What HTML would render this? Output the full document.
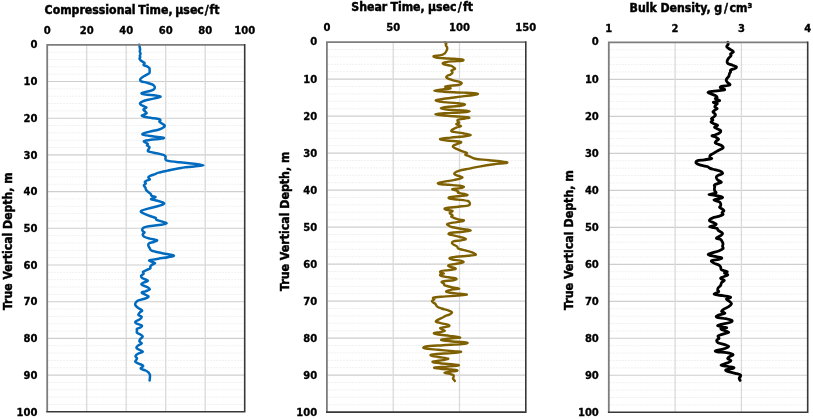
<!DOCTYPE html>
<html><head><meta charset="utf-8"><title>Well logs</title><style>
html,body{margin:0;padding:0;background:#fff;}
body{width:813px;height:419px;overflow:hidden;}
svg{display:block;}
text{font-family:'DejaVu Sans Condensed','DejaVu Sans',sans-serif;font-stretch:condensed;font-weight:bold;fill:#000;stroke:#000;stroke-width:0.45px;}
.t{font-size:12.2px;word-spacing:-1.1px;}
.yt{font-size:12.1px;}
.xl{font-size:10px;text-anchor:middle;font-stretch:normal;font-family:'DejaVu Sans',sans-serif;stroke-width:0.3px;}
.yl{font-size:10px;text-anchor:end;font-stretch:normal;font-family:'DejaVu Sans',sans-serif;stroke-width:0.3px;}
.mj{stroke:#cecece;stroke-width:1.1;}
.mv{stroke:#dadada;stroke-width:1.3;}
.mn{stroke:#f0f0f0;stroke-width:1;stroke-dasharray:2,1;}
</style></head>
<body>
<svg width="813" height="419" viewBox="0 0 813 419">
<line x1="48.2" y1="52.14" x2="243.7" y2="52.14" class="mn"/>
<line x1="48.2" y1="59.48" x2="243.7" y2="59.48" class="mn"/>
<line x1="48.2" y1="66.82" x2="243.7" y2="66.82" class="mn"/>
<line x1="48.2" y1="74.16" x2="243.7" y2="74.16" class="mn"/>
<line x1="48.2" y1="88.84" x2="243.7" y2="88.84" class="mn"/>
<line x1="48.2" y1="96.18" x2="243.7" y2="96.18" class="mn"/>
<line x1="48.2" y1="103.52" x2="243.7" y2="103.52" class="mn"/>
<line x1="48.2" y1="110.86" x2="243.7" y2="110.86" class="mn"/>
<line x1="48.2" y1="125.54" x2="243.7" y2="125.54" class="mn"/>
<line x1="48.2" y1="132.88" x2="243.7" y2="132.88" class="mn"/>
<line x1="48.2" y1="140.22" x2="243.7" y2="140.22" class="mn"/>
<line x1="48.2" y1="147.56" x2="243.7" y2="147.56" class="mn"/>
<line x1="48.2" y1="162.24" x2="243.7" y2="162.24" class="mn"/>
<line x1="48.2" y1="169.58" x2="243.7" y2="169.58" class="mn"/>
<line x1="48.2" y1="176.92" x2="243.7" y2="176.92" class="mn"/>
<line x1="48.2" y1="184.26" x2="243.7" y2="184.26" class="mn"/>
<line x1="48.2" y1="198.94" x2="243.7" y2="198.94" class="mn"/>
<line x1="48.2" y1="206.28" x2="243.7" y2="206.28" class="mn"/>
<line x1="48.2" y1="213.62" x2="243.7" y2="213.62" class="mn"/>
<line x1="48.2" y1="220.96" x2="243.7" y2="220.96" class="mn"/>
<line x1="48.2" y1="235.64" x2="243.7" y2="235.64" class="mn"/>
<line x1="48.2" y1="242.98" x2="243.7" y2="242.98" class="mn"/>
<line x1="48.2" y1="250.32" x2="243.7" y2="250.32" class="mn"/>
<line x1="48.2" y1="257.66" x2="243.7" y2="257.66" class="mn"/>
<line x1="48.2" y1="272.34" x2="243.7" y2="272.34" class="mn"/>
<line x1="48.2" y1="279.68" x2="243.7" y2="279.68" class="mn"/>
<line x1="48.2" y1="287.02" x2="243.7" y2="287.02" class="mn"/>
<line x1="48.2" y1="294.36" x2="243.7" y2="294.36" class="mn"/>
<line x1="48.2" y1="309.04" x2="243.7" y2="309.04" class="mn"/>
<line x1="48.2" y1="316.38" x2="243.7" y2="316.38" class="mn"/>
<line x1="48.2" y1="323.72" x2="243.7" y2="323.72" class="mn"/>
<line x1="48.2" y1="331.06" x2="243.7" y2="331.06" class="mn"/>
<line x1="48.2" y1="345.74" x2="243.7" y2="345.74" class="mn"/>
<line x1="48.2" y1="353.08" x2="243.7" y2="353.08" class="mn"/>
<line x1="48.2" y1="360.42" x2="243.7" y2="360.42" class="mn"/>
<line x1="48.2" y1="367.76" x2="243.7" y2="367.76" class="mn"/>
<line x1="48.2" y1="382.44" x2="243.7" y2="382.44" class="mn"/>
<line x1="48.2" y1="389.78" x2="243.7" y2="389.78" class="mn"/>
<line x1="48.2" y1="397.12" x2="243.7" y2="397.12" class="mn"/>
<line x1="48.2" y1="404.46" x2="243.7" y2="404.46" class="mn"/>
<line x1="47.2" y1="81.5" x2="244.7" y2="81.5" class="mj"/>
<line x1="47.2" y1="118.2" x2="244.7" y2="118.2" class="mj"/>
<line x1="47.2" y1="154.9" x2="244.7" y2="154.9" class="mj"/>
<line x1="47.2" y1="191.6" x2="244.7" y2="191.6" class="mj"/>
<line x1="47.2" y1="228.3" x2="244.7" y2="228.3" class="mj"/>
<line x1="47.2" y1="265" x2="244.7" y2="265" class="mj"/>
<line x1="47.2" y1="301.7" x2="244.7" y2="301.7" class="mj"/>
<line x1="47.2" y1="338.4" x2="244.7" y2="338.4" class="mj"/>
<line x1="47.2" y1="375.1" x2="244.7" y2="375.1" class="mj"/>
<line x1="86.7" y1="44.8" x2="86.7" y2="411.8" class="mv"/>
<line x1="126.2" y1="44.8" x2="126.2" y2="411.8" class="mv"/>
<line x1="165.7" y1="44.8" x2="165.7" y2="411.8" class="mv"/>
<line x1="205.2" y1="44.8" x2="205.2" y2="411.8" class="mv"/>
<path d="M139.3,44.8 C139.38,45.27 139.67,46.8 139.8,47.6 C139.93,48.4 140.1,48.95 140.1,49.6 C140.1,50.25 139.73,50.8 139.8,51.5 C139.87,52.2 140.5,53.08 140.5,53.8 C140.5,54.52 139.83,55.23 139.8,55.8 C139.77,56.37 140.35,56.73 140.3,57.2 C140.25,57.67 139.42,58.05 139.5,58.6 C139.58,59.15 140.2,59.93 140.8,60.5 C141.4,61.07 142.47,61.6 143.1,62 C143.73,62.4 144.52,62.5 144.6,62.9 C144.68,63.3 143.68,64 143.6,64.4 C143.52,64.8 143.53,64.98 144.1,65.3 C144.67,65.62 146.12,65.82 147,66.3 C147.88,66.78 148.97,67.48 149.4,68.2 C149.83,68.92 149.6,69.8 149.6,70.6 C149.6,71.4 149.92,72.28 149.4,73 C148.88,73.72 147.55,74.27 146.5,74.9 C145.45,75.53 144.13,76.08 143.1,76.8 C142.07,77.52 140.62,78.45 140.3,79.2 C139.98,79.95 140.08,80.72 141.2,81.3 C142.32,81.88 145.08,82.15 147,82.7 C148.92,83.25 151.4,83.88 152.7,84.6 C154,85.32 154.63,86.2 154.8,87 C154.97,87.8 154.68,88.68 153.7,89.4 C152.72,90.12 150.73,90.75 148.9,91.3 C147.07,91.85 143.9,92.3 142.7,92.7 C141.5,93.1 141.23,93.38 141.7,93.7 C142.17,94.02 143.18,94.28 145.5,94.6 C147.82,94.92 153.1,95.28 155.6,95.6 C158.1,95.92 160.18,96.13 160.5,96.5 C160.82,96.87 159.28,97.32 157.5,97.8 C155.72,98.28 152.27,98.82 149.8,99.4 C147.33,99.98 144.32,100.67 142.7,101.3 C141.08,101.93 140.42,102.63 140.1,103.2 C139.78,103.77 140.13,104.17 140.8,104.7 C141.47,105.23 143.15,105.93 144.1,106.4 C145.05,106.87 146.5,107.07 146.5,107.5 C146.5,107.93 144.58,108.6 144.1,109 C143.62,109.4 143.28,109.35 143.6,109.9 C143.92,110.45 145.52,111.72 146,112.3 C146.48,112.88 146.9,112.97 146.5,113.4 C146.1,113.83 144.4,114.5 143.6,114.9 C142.8,115.3 141.62,115.48 141.7,115.8 C141.78,116.12 142.43,116.45 144.1,116.8 C145.77,117.15 149.15,117.5 151.7,117.9 C154.25,118.3 157.97,118.75 159.4,119.2 C160.83,119.65 160.3,120.2 160.3,120.6 C160.3,121 159.15,121.12 159.4,121.6 C159.65,122.08 160.93,122.87 161.8,123.5 C162.67,124.13 164.28,124.77 164.6,125.4 C164.92,126.03 164.73,126.58 163.7,127.3 C162.67,128.02 160.72,128.98 158.4,129.7 C156.08,130.42 152.35,130.97 149.8,131.6 C147.25,132.23 144.13,132.95 143.1,133.5 C142.07,134.05 141.83,134.42 143.6,134.9 C145.37,135.38 150.35,135.92 153.7,136.4 C157.05,136.88 162.6,137.42 163.7,137.8 C164.8,138.18 162.45,138.38 160.3,138.7 C158.15,139.02 153.5,139.3 150.8,139.7 C148.1,140.1 144.98,140.62 144.1,141.1 C143.22,141.58 144.87,142.12 145.5,142.6 C146.13,143.08 147.65,143.53 147.9,144 C148.15,144.47 146.75,144.92 147,145.4 C147.25,145.88 149.08,146.33 149.4,146.9 C149.72,147.47 149.17,148.15 148.9,148.8 C148.63,149.45 147.65,150.28 147.8,150.8 C147.95,151.32 148.17,151.47 149.8,151.9 C151.43,152.33 155.32,152.9 157.6,153.4 C159.88,153.9 162.18,154.4 163.5,154.9 C164.82,155.4 165.17,155.75 165.5,156.4 C165.83,157.05 165.25,158.1 165.5,158.8 C165.75,159.5 164.7,160.02 167,160.6 C169.3,161.18 174.78,161.78 179.3,162.3 C183.82,162.82 190.08,163.22 194.1,163.7 C198.12,164.18 203.4,164.73 203.4,165.2 C203.4,165.67 198.12,166 194.1,166.5 C190.08,167 183.73,167.52 179.3,168.2 C174.87,168.88 170.95,169.87 167.5,170.6 C164.05,171.33 160.65,172.02 158.6,172.6 C156.55,173.18 156.52,173.6 155.2,174.1 C153.88,174.6 151.85,175.07 150.7,175.6 C149.55,176.13 148.45,176.65 148.3,177.3 C148.15,177.95 150.05,178.97 149.8,179.5 C149.55,180.03 147.63,180.08 146.8,180.5 C145.97,180.92 144.97,181.52 144.8,182 C144.63,182.48 145.95,182.83 145.8,183.4 C145.65,183.97 143.95,184.67 143.9,185.4 C143.85,186.13 145.15,187.08 145.5,187.8 C145.85,188.52 145.52,188.98 146,189.7 C146.48,190.42 147.6,191.38 148.4,192.1 C149.2,192.82 150.25,193.37 150.8,194 C151.35,194.63 150.9,195.42 151.7,195.9 C152.5,196.38 155.43,196.5 155.6,196.9 C155.77,197.3 153.42,197.9 152.7,198.3 C151.98,198.7 150.5,198.9 151.3,199.3 C152.1,199.7 155.52,200.15 157.5,200.7 C159.48,201.25 162.17,202.03 163.2,202.6 C164.23,203.17 164.5,203.53 163.7,204.1 C162.9,204.67 160.87,205.28 158.4,206 C155.93,206.72 151.68,207.62 148.9,208.4 C146.12,209.18 142.98,210.07 141.7,210.7 C140.42,211.33 140.63,211.63 141.2,212.2 C141.77,212.77 143.67,213.47 145.1,214.1 C146.53,214.73 148.05,215.37 149.8,216 C151.55,216.63 154.48,217.27 155.6,217.9 C156.72,218.53 155.23,219.13 156.5,219.8 C157.77,220.47 161.53,221.32 163.2,221.9 C164.87,222.48 166.82,222.82 166.5,223.3 C166.18,223.78 164.23,224.32 161.3,224.8 C158.37,225.28 151.85,225.73 148.9,226.2 C145.95,226.67 144.72,227.03 143.6,227.6 C142.48,228.17 142.28,228.95 142.2,229.6 C142.12,230.25 142.7,231.03 143.1,231.5 C143.5,231.97 144.67,231.93 144.6,232.4 C144.53,232.87 142.78,233.58 142.7,234.3 C142.62,235.02 142.92,235.98 144.1,236.7 C145.28,237.42 147.65,238.02 149.8,238.6 C151.95,239.18 156.35,239.63 157,240.2 C157.65,240.77 155.05,241.47 153.7,242 C152.35,242.53 149.78,242.77 148.9,243.4 C148.02,244.03 148.25,245 148.4,245.8 C148.55,246.6 149.25,247.4 149.8,248.2 C150.35,249 149.78,249.8 151.7,250.6 C153.62,251.4 157.63,252.18 161.3,253 C164.97,253.82 172.58,254.8 173.7,255.5 C174.82,256.2 170.55,256.67 168,257.2 C165.45,257.73 161.5,258.18 158.4,258.7 C155.3,259.22 150.52,259.8 149.4,260.3 C148.28,260.8 150.75,261.22 151.7,261.7 C152.65,262.18 155.02,262.72 155.1,263.2 C155.18,263.68 153,264.05 152.2,264.6 C151.4,265.15 150.62,265.87 150.3,266.5 C149.98,267.13 150.85,267.85 150.3,268.4 C149.75,268.95 148.2,269.23 147,269.8 C145.8,270.37 143.67,271.15 143.1,271.8 C142.53,272.45 143.92,273.07 143.6,273.7 C143.28,274.33 141.43,274.88 141.2,275.6 C140.97,276.32 141.08,277.13 142.2,278 C143.32,278.87 147.75,280.02 147.9,280.8 C148.05,281.58 144.13,282.05 143.1,282.7 C142.07,283.35 141.05,283.98 141.7,284.7 C142.35,285.42 145.65,286.22 147,287 C148.35,287.78 150.05,288.68 149.8,289.4 C149.55,290.12 146.85,290.73 145.5,291.3 C144.15,291.87 141.53,292.13 141.7,292.8 C141.87,293.47 145.38,294.63 146.5,295.3 C147.62,295.97 148.72,296.23 148.4,296.8 C148.08,297.37 146.35,298.07 144.6,298.7 C142.85,299.33 139.42,299.88 137.9,300.6 C136.38,301.32 135.9,302.2 135.5,303 C135.1,303.8 135.1,304.6 135.5,305.4 C135.9,306.2 136.78,306.93 137.9,307.8 C139.02,308.67 141.88,309.82 142.2,310.6 C142.52,311.38 140.43,311.78 139.8,312.5 C139.17,313.22 138.08,314.18 138.4,314.9 C138.72,315.62 141.47,316.08 141.7,316.8 C141.93,317.52 140.83,318.4 139.8,319.2 C138.77,320 136.05,320.88 135.5,321.6 C134.95,322.32 135.47,322.87 136.5,323.5 C137.53,324.13 140.98,324.77 141.7,325.4 C142.42,326.03 141.58,326.73 140.8,327.3 C140.02,327.87 137.63,328.28 137,328.8 C136.37,329.32 137,329.73 137,330.4 C137,331.07 136.37,332.08 137,332.8 C137.63,333.52 139.85,334.07 140.8,334.7 C141.75,335.33 142.78,335.88 142.7,336.6 C142.62,337.32 140.85,338.2 140.3,339 C139.75,339.8 139.17,340.68 139.4,341.4 C139.63,342.12 141.95,342.58 141.7,343.3 C141.45,344.02 138.77,344.9 137.9,345.7 C137.03,346.5 136.18,347.38 136.5,348.1 C136.82,348.82 138.77,349.37 139.8,350 C140.83,350.63 143.02,351.27 142.7,351.9 C142.38,352.53 139.1,353.08 137.9,353.8 C136.7,354.52 135.65,355.4 135.5,356.2 C135.35,357 137,357.8 137,358.6 C137,359.4 135.75,360.45 135.5,361 C135.25,361.55 135.1,361.52 135.5,361.9 C135.9,362.28 136.87,362.82 137.9,363.3 C138.93,363.78 140.82,364.32 141.7,364.8 C142.58,365.28 143.35,365.65 143.2,366.2 C143.05,366.75 141.05,367.62 140.8,368.1 C140.55,368.58 140.9,368.7 141.7,369.1 C142.5,369.5 144.48,369.95 145.6,370.5 C146.72,371.05 147.68,371.68 148.4,372.4 C149.12,373.12 149.65,373.92 149.9,374.8 C150.15,375.68 149.95,376.75 149.9,377.7 C149.85,378.65 149.65,380.03 149.6,380.5" fill="none" stroke="#006abe" stroke-width="2.5" stroke-linejoin="round" stroke-linecap="round"/>
<path d="M47.2,411.8 V44.8 H244.7" fill="none" stroke="#7d7d7d" stroke-width="1.8"/>
<path d="M244.7,43.9 V411.8 H46.3" fill="none" stroke="#383838" stroke-width="1.6"/>
<text x="44.6" y="14" class="t" style="word-spacing:-1.1px">Compressional Time, µsec<tspan dx="0.8">/</tspan><tspan dx="0.8">ft</tspan></text>
<text x="47.2" y="34.3" class="xl">0</text>
<text x="86.7" y="34.3" class="xl">20</text>
<text x="126.2" y="34.3" class="xl">40</text>
<text x="165.7" y="34.3" class="xl">60</text>
<text x="205.2" y="34.3" class="xl">80</text>
<text x="244.7" y="34.3" class="xl">100</text>
<text x="37.4" y="47.7" class="yl">0</text>
<text x="37.4" y="85.2" class="yl">10</text>
<text x="37.4" y="121.9" class="yl">20</text>
<text x="37.4" y="158.6" class="yl">30</text>
<text x="37.4" y="195.3" class="yl">40</text>
<text x="37.4" y="232" class="yl">50</text>
<text x="37.4" y="268.7" class="yl">60</text>
<text x="37.4" y="305.4" class="yl">70</text>
<text x="37.4" y="342.1" class="yl">80</text>
<text x="37.4" y="378.8" class="yl">90</text>
<text x="37.4" y="415.5" class="yl">100</text>
<text transform="translate(11.7,310) rotate(-90)" class="yt" style="font-size:12.1px">True Vertical Depth, m</text>
<line x1="327.9" y1="49.5" x2="524.8" y2="49.5" class="mn"/>
<line x1="327.9" y1="56.9" x2="524.8" y2="56.9" class="mn"/>
<line x1="327.9" y1="64.3" x2="524.8" y2="64.3" class="mn"/>
<line x1="327.9" y1="71.7" x2="524.8" y2="71.7" class="mn"/>
<line x1="327.9" y1="86.5" x2="524.8" y2="86.5" class="mn"/>
<line x1="327.9" y1="93.9" x2="524.8" y2="93.9" class="mn"/>
<line x1="327.9" y1="101.3" x2="524.8" y2="101.3" class="mn"/>
<line x1="327.9" y1="108.7" x2="524.8" y2="108.7" class="mn"/>
<line x1="327.9" y1="123.5" x2="524.8" y2="123.5" class="mn"/>
<line x1="327.9" y1="130.9" x2="524.8" y2="130.9" class="mn"/>
<line x1="327.9" y1="138.3" x2="524.8" y2="138.3" class="mn"/>
<line x1="327.9" y1="145.7" x2="524.8" y2="145.7" class="mn"/>
<line x1="327.9" y1="160.5" x2="524.8" y2="160.5" class="mn"/>
<line x1="327.9" y1="167.9" x2="524.8" y2="167.9" class="mn"/>
<line x1="327.9" y1="175.3" x2="524.8" y2="175.3" class="mn"/>
<line x1="327.9" y1="182.7" x2="524.8" y2="182.7" class="mn"/>
<line x1="327.9" y1="197.5" x2="524.8" y2="197.5" class="mn"/>
<line x1="327.9" y1="204.9" x2="524.8" y2="204.9" class="mn"/>
<line x1="327.9" y1="212.3" x2="524.8" y2="212.3" class="mn"/>
<line x1="327.9" y1="219.7" x2="524.8" y2="219.7" class="mn"/>
<line x1="327.9" y1="234.5" x2="524.8" y2="234.5" class="mn"/>
<line x1="327.9" y1="241.9" x2="524.8" y2="241.9" class="mn"/>
<line x1="327.9" y1="249.3" x2="524.8" y2="249.3" class="mn"/>
<line x1="327.9" y1="256.7" x2="524.8" y2="256.7" class="mn"/>
<line x1="327.9" y1="271.5" x2="524.8" y2="271.5" class="mn"/>
<line x1="327.9" y1="278.9" x2="524.8" y2="278.9" class="mn"/>
<line x1="327.9" y1="286.3" x2="524.8" y2="286.3" class="mn"/>
<line x1="327.9" y1="293.7" x2="524.8" y2="293.7" class="mn"/>
<line x1="327.9" y1="308.5" x2="524.8" y2="308.5" class="mn"/>
<line x1="327.9" y1="315.9" x2="524.8" y2="315.9" class="mn"/>
<line x1="327.9" y1="323.3" x2="524.8" y2="323.3" class="mn"/>
<line x1="327.9" y1="330.7" x2="524.8" y2="330.7" class="mn"/>
<line x1="327.9" y1="345.5" x2="524.8" y2="345.5" class="mn"/>
<line x1="327.9" y1="352.9" x2="524.8" y2="352.9" class="mn"/>
<line x1="327.9" y1="360.3" x2="524.8" y2="360.3" class="mn"/>
<line x1="327.9" y1="367.7" x2="524.8" y2="367.7" class="mn"/>
<line x1="327.9" y1="382.5" x2="524.8" y2="382.5" class="mn"/>
<line x1="327.9" y1="389.9" x2="524.8" y2="389.9" class="mn"/>
<line x1="327.9" y1="397.3" x2="524.8" y2="397.3" class="mn"/>
<line x1="327.9" y1="404.7" x2="524.8" y2="404.7" class="mn"/>
<line x1="326.9" y1="79.1" x2="525.8" y2="79.1" class="mj"/>
<line x1="326.9" y1="116.1" x2="525.8" y2="116.1" class="mj"/>
<line x1="326.9" y1="153.1" x2="525.8" y2="153.1" class="mj"/>
<line x1="326.9" y1="190.1" x2="525.8" y2="190.1" class="mj"/>
<line x1="326.9" y1="227.1" x2="525.8" y2="227.1" class="mj"/>
<line x1="326.9" y1="264.1" x2="525.8" y2="264.1" class="mj"/>
<line x1="326.9" y1="301.1" x2="525.8" y2="301.1" class="mj"/>
<line x1="326.9" y1="338.1" x2="525.8" y2="338.1" class="mj"/>
<line x1="326.9" y1="375.1" x2="525.8" y2="375.1" class="mj"/>
<line x1="393.2" y1="42.1" x2="393.2" y2="412.1" class="mv"/>
<line x1="459.5" y1="42.1" x2="459.5" y2="412.1" class="mv"/>
<path d="M444.8,42.3 C445.05,42.53 446.13,43.22 446.3,43.7 C446.47,44.18 445.65,44.55 445.8,45.2 C445.95,45.85 447.05,46.73 447.2,47.6 C447.35,48.47 447.1,49.45 446.7,50.4 C446.3,51.35 445.75,52.5 444.8,53.3 C443.85,54.1 442.83,54.73 441,55.2 C439.17,55.67 434.6,55.7 433.8,56.1 C433,56.5 433.72,57.2 436.2,57.6 C438.68,58 444.4,58.18 448.7,58.5 C453,58.82 459.78,59.13 462,59.5 C464.22,59.87 463.75,60.38 462,60.7 C460.25,61.02 454.6,61.05 451.5,61.4 C448.4,61.75 444.67,62.32 443.4,62.8 C442.13,63.28 442.7,63.82 443.9,64.3 C445.1,64.78 448.93,65.15 450.6,65.7 C452.27,66.25 453.18,67.05 453.9,67.6 C454.62,68.15 455.3,68.52 454.9,69 C454.5,69.48 451.9,69.93 451.5,70.5 C451.1,71.07 452.65,71.73 452.5,72.4 C452.35,73.07 451.48,73.92 450.6,74.5 C449.72,75.08 447.85,75.35 447.2,75.9 C446.55,76.45 445.82,77.08 446.7,77.8 C447.58,78.52 450.27,79.48 452.5,80.2 C454.73,80.92 458.6,81.53 460.1,82.1 C461.6,82.67 461.82,83.12 461.5,83.6 C461.18,84.08 460.33,84.62 458.2,85 C456.07,85.38 450.85,85.58 448.7,85.9 C446.55,86.22 444.98,86.5 445.3,86.9 C445.62,87.3 450.83,87.9 450.6,88.3 C450.37,88.7 446.62,88.9 443.9,89.3 C441.18,89.7 434.3,90.3 434.3,90.7 C434.3,91.1 439.12,91.38 443.9,91.7 C448.68,92.02 457.43,92.28 463,92.6 C468.57,92.92 475.55,93.2 477.3,93.6 C479.05,94 476.68,94.45 473.5,95 C470.32,95.55 463.13,96.27 458.2,96.9 C453.27,97.53 447.63,98.23 443.9,98.8 C440.17,99.37 436.12,99.78 435.8,100.3 C435.48,100.82 438.58,101.43 442,101.9 C445.42,102.37 452.48,102.68 456.3,103.1 C460.12,103.52 464.58,103.92 464.9,104.4 C465.22,104.88 461.23,105.57 458.2,106 C455.17,106.43 449.57,106.6 446.7,107 C443.83,107.4 440.67,107.93 441,108.4 C441.33,108.87 445.03,109.47 448.7,109.8 C452.37,110.13 459.5,110.17 463,110.4 C466.5,110.63 469.7,110.88 469.7,111.2 C469.7,111.52 467.3,111.95 463,112.3 C458.7,112.65 448.52,112.98 443.9,113.3 C439.28,113.62 435.3,113.82 435.3,114.2 C435.3,114.58 439.77,115.2 443.9,115.6 C448.03,116 455.88,116.27 460.1,116.6 C464.32,116.93 468.4,117.28 469.2,117.6 C470,117.92 466.73,118.15 464.9,118.5 C463.07,118.85 459.4,119.22 458.2,119.7 C457,120.18 457.53,120.88 457.7,121.4 C457.87,121.92 459.43,122.33 459.2,122.8 C458.97,123.27 455.98,123.65 456.3,124.2 C456.62,124.75 461.1,125.53 461.1,126.1 C461.1,126.67 457.9,126.88 456.3,127.6 C454.7,128.32 451.98,129.68 451.5,130.4 C451.02,131.12 451.48,131.42 453.4,131.9 C455.32,132.38 460.13,132.8 463,133.3 C465.87,133.8 470.28,134.42 470.6,134.9 C470.92,135.38 468.23,135.75 464.9,136.2 C461.57,136.65 454.73,137.13 450.6,137.6 C446.47,138.07 440.75,138.52 440.1,139 C439.45,139.48 443.68,140.1 446.7,140.5 C449.72,140.9 455.8,141.05 458.2,141.4 C460.6,141.75 461.42,142.12 461.1,142.6 C460.78,143.08 457.55,143.82 456.3,144.3 C455.05,144.78 454.13,145.05 453.6,145.5 C453.07,145.95 452.6,146.43 453.1,147 C453.6,147.57 455.03,148.17 456.6,148.9 C458.17,149.63 460.78,150.73 462.5,151.4 C464.22,152.07 466.42,152.33 466.9,152.9 C467.38,153.47 464.98,154.23 465.4,154.8 C465.82,155.37 467.75,155.63 469.4,156.3 C471.05,156.97 472.02,158.15 475.3,158.8 C478.58,159.45 483.77,159.58 489.1,160.2 C494.43,160.82 506.48,161.83 507.3,162.5 C508.12,163.17 498.68,163.52 494,164.2 C489.32,164.88 483.3,165.87 479.2,166.6 C475.1,167.33 472.68,167.93 469.4,168.6 C466.12,169.27 461.97,169.87 459.5,170.6 C457.03,171.33 455.25,172.27 454.6,173 C453.95,173.73 454.28,174.25 455.6,175 C456.92,175.75 462.67,176.68 462.5,177.5 C462.33,178.32 457.38,179.25 454.6,179.9 C451.82,180.55 448.47,180.9 445.8,181.4 C443.13,181.9 439.72,182.47 438.6,182.9 C437.48,183.33 437.42,183.68 439.1,184 C440.78,184.32 445.2,184.52 448.7,184.8 C452.2,185.08 457.57,185.35 460.1,185.7 C462.63,186.05 463.9,186.5 463.9,186.9 C463.9,187.3 462,187.73 460.1,188.1 C458.2,188.47 453.45,188.78 452.5,189.1 C451.55,189.42 453.45,189.6 454.4,190 C455.35,190.4 457.57,191.02 458.2,191.5 C458.83,191.98 456.93,192.43 458.2,192.9 C459.47,193.37 464.37,193.9 465.8,194.3 C467.23,194.7 468.07,194.98 466.8,195.3 C465.53,195.62 461.07,195.88 458.2,196.2 C455.33,196.52 451.03,196.8 449.6,197.2 C448.17,197.6 448.17,198.2 449.6,198.6 C451.03,199 455.17,199.2 458.2,199.6 C461.23,200 465.88,200.45 467.8,201 C469.72,201.55 469.55,202.18 469.7,202.9 C469.85,203.62 470.62,204.67 468.7,205.3 C466.78,205.93 462.02,206.22 458.2,206.7 C454.38,207.18 447.87,207.72 445.8,208.2 C443.73,208.68 444.68,209.13 445.8,209.6 C446.92,210.07 451.87,210.45 452.5,211 C453.13,211.55 449.6,212.18 449.6,212.9 C449.6,213.62 452.18,214.65 452.5,215.3 C452.82,215.95 450.55,216.13 451.5,216.8 C452.45,217.47 456.13,218.72 458.2,219.3 C460.27,219.88 463.58,219.9 463.9,220.3 C464.22,220.7 462.17,221.27 460.1,221.7 C458.03,222.13 453.65,222.5 451.5,222.9 C449.35,223.3 447.67,223.65 447.2,224.1 C446.73,224.55 447.98,225.12 448.7,225.6 C449.42,226.08 449.28,226.45 451.5,227 C453.72,227.55 458.82,228.35 462,228.9 C465.18,229.45 470.43,229.82 470.6,230.3 C470.77,230.78 466.18,231.4 463,231.8 C459.82,232.2 453.88,232.32 451.5,232.7 C449.12,233.08 448.22,233.62 448.7,234.1 C449.18,234.58 452.5,235.12 454.4,235.6 C456.3,236.08 458.2,236.45 460.1,237 C462,237.55 465.63,238.33 465.8,238.9 C465.97,239.47 463.17,240 461.1,240.4 C459.03,240.8 454.92,240.83 453.4,241.3 C451.88,241.77 451.83,242.57 452,243.2 C452.17,243.83 453.53,244.53 454.4,245.1 C455.27,245.67 456.57,246.03 457.2,246.6 C457.83,247.17 457.23,247.95 458.2,248.5 C459.17,249.05 460.93,249.35 463,249.9 C465.07,250.45 468.7,251.22 470.6,251.8 C472.5,252.38 473.6,252.88 474.4,253.4 C475.2,253.92 476.5,254.5 475.4,254.9 C474.3,255.3 470.98,255.48 467.8,255.8 C464.62,256.12 459.33,256.4 456.3,256.8 C453.27,257.2 450.23,257.73 449.6,258.2 C448.97,258.67 450.75,259.2 452.5,259.6 C454.25,260 458.27,260.2 460.1,260.6 C461.93,261 463.82,261.52 463.5,262 C463.18,262.48 460.52,263.02 458.2,263.5 C455.88,263.98 451.18,264.43 449.6,264.9 C448.02,265.37 447.9,265.82 448.7,266.3 C449.5,266.78 453.3,267.32 454.4,267.8 C455.5,268.28 456.25,268.82 455.3,269.2 C454.35,269.58 451.08,269.78 448.7,270.1 C446.32,270.42 442.37,270.7 441,271.1 C439.63,271.5 440.02,272.1 440.5,272.5 C440.98,272.9 443.9,273.18 443.9,273.5 C443.9,273.82 440.98,274 440.5,274.4 C440.02,274.8 439.63,275.42 441,275.9 C442.37,276.38 446.15,276.83 448.7,277.3 C451.25,277.77 455.52,278.22 456.3,278.7 C457.08,279.18 455.47,279.8 453.4,280.2 C451.33,280.6 445.88,280.78 443.9,281.1 C441.92,281.42 441.5,281.7 441.5,282.1 C441.5,282.5 443.35,282.95 443.9,283.5 C444.45,284.05 443.37,284.77 444.8,285.4 C446.23,286.03 450.1,286.77 452.5,287.3 C454.9,287.83 459.12,288.25 459.2,288.6 C459.28,288.95 455.15,288.95 453,289.4 C450.85,289.85 446.78,290.73 446.3,291.3 C445.82,291.87 447.87,292.4 450.1,292.8 C452.33,293.2 456.92,293.38 459.7,293.7 C462.48,294.02 467.12,294.38 466.8,294.7 C466.48,295.02 461.7,295.28 457.8,295.6 C453.9,295.92 447.47,296.27 443.4,296.6 C439.33,296.93 434.9,297.2 433.4,297.6 C431.9,298 434.63,298.45 434.4,299 C434.17,299.55 432.25,300.35 432,300.9 C431.75,301.45 432.35,301.82 432.9,302.3 C433.45,302.78 434.58,303.08 435.3,303.8 C436.02,304.52 436.17,305.82 437.2,306.6 C438.23,307.38 439.67,307.87 441.5,308.5 C443.33,309.13 446.45,309.75 448.2,310.4 C449.95,311.05 451.68,311.75 452,312.4 C452.32,313.05 451.05,313.75 450.1,314.3 C449.15,314.85 447.73,315.07 446.3,315.7 C444.87,316.33 443.1,317.3 441.5,318.1 C439.9,318.9 437.57,319.87 436.7,320.5 C435.83,321.13 435.5,321.43 436.3,321.9 C437.1,322.37 439.52,322.82 441.5,323.3 C443.48,323.78 446.92,324.35 448.2,324.8 C449.48,325.25 449.6,325.65 449.2,326 C448.8,326.35 447.32,326.52 445.8,326.9 C444.28,327.28 440.25,327.67 440.1,328.3 C439.95,328.93 444.9,330.07 444.9,330.7 C444.9,331.33 441.93,331.7 440.1,332.1 C438.27,332.5 434.22,332.7 433.9,333.1 C433.58,333.5 435.57,334.03 438.2,334.5 C440.83,334.97 446.03,335.38 449.7,335.9 C453.37,336.42 460.05,337.17 460.2,337.6 C460.35,338.03 453.78,338.13 450.6,338.5 C447.42,338.87 441.25,339.35 441.1,339.8 C440.95,340.25 445.4,340.73 449.7,341.2 C454,341.67 464.83,342.12 466.9,342.6 C468.97,343.08 466.08,343.67 462.1,344.1 C458.12,344.53 449.05,344.82 443,345.2 C436.95,345.58 428.83,345.87 425.8,346.4 C422.77,346.93 422.73,347.83 424.8,348.4 C426.87,348.97 433.42,349.33 438.2,349.8 C442.98,350.27 449.68,350.85 453.5,351.2 C457.32,351.55 461.42,351.58 461.1,351.9 C460.78,352.22 455.9,352.73 451.6,353.1 C447.3,353.47 438.8,353.73 435.3,354.1 C431.8,354.47 430.12,354.82 430.6,355.3 C431.08,355.78 435.27,356.45 438.2,357 C441.13,357.55 447.4,358.08 448.2,358.6 C449,359.12 445.62,359.57 443,360.1 C440.38,360.63 432.98,361.27 432.5,361.8 C432.02,362.33 436.6,362.85 440.1,363.3 C443.6,363.75 450.4,364.15 453.5,364.5 C456.6,364.85 459.65,365.05 458.7,365.4 C457.75,365.75 451.85,366.23 447.8,366.6 C443.75,366.97 435.68,367.25 434.4,367.6 C433.12,367.95 436.92,368.35 440.1,368.7 C443.28,369.05 450.63,369.38 453.5,369.7 C456.37,370.02 457.93,370.25 457.3,370.6 C456.67,370.95 451.85,371.43 449.7,371.8 C447.55,372.17 444.4,372.47 444.4,372.8 C444.4,373.13 448.18,373.4 449.7,373.8 C451.22,374.2 452.87,374.65 453.5,375.2 C454.13,375.75 453.58,376.55 453.5,377.1 C453.42,377.65 452.77,377.87 453,378.5 C453.23,379.13 454.58,380.5 454.9,380.9" fill="none" stroke="#7f6000" stroke-width="2.4" stroke-linejoin="round" stroke-linecap="round"/>
<path d="M326.9,412.1 V42.1 H525.8" fill="none" stroke="#7d7d7d" stroke-width="1.8"/>
<path d="M525.8,41.2 V412.1 H326" fill="none" stroke="#383838" stroke-width="1.6"/>
<text x="351.3" y="11.1" class="t" style="word-spacing:-0.6px">Shear Time, µsec<tspan dx="1.2">/</tspan><tspan dx="1.2">ft</tspan></text>
<text x="326.9" y="30.8" class="xl">0</text>
<text x="393.2" y="30.8" class="xl">50</text>
<text x="459.5" y="30.8" class="xl">100</text>
<text x="525.8" y="30.8" class="xl">150</text>
<text x="317.1" y="45" class="yl">0</text>
<text x="317.1" y="82.8" class="yl">10</text>
<text x="317.1" y="119.8" class="yl">20</text>
<text x="317.1" y="156.8" class="yl">30</text>
<text x="317.1" y="193.8" class="yl">40</text>
<text x="317.1" y="230.8" class="yl">50</text>
<text x="317.1" y="267.8" class="yl">60</text>
<text x="317.1" y="304.8" class="yl">70</text>
<text x="317.1" y="341.8" class="yl">80</text>
<text x="317.1" y="378.8" class="yl">90</text>
<text x="317.1" y="415.8" class="yl">100</text>
<text transform="translate(288.7,290.9) rotate(-90)" class="yt" style="font-size:12.25px">True Vertical Depth, m</text>
<line x1="609.8" y1="49.8" x2="806.7" y2="49.8" class="mn"/>
<line x1="609.8" y1="57.2" x2="806.7" y2="57.2" class="mn"/>
<line x1="609.8" y1="64.59" x2="806.7" y2="64.59" class="mn"/>
<line x1="609.8" y1="71.99" x2="806.7" y2="71.99" class="mn"/>
<line x1="609.8" y1="86.79" x2="806.7" y2="86.79" class="mn"/>
<line x1="609.8" y1="94.19" x2="806.7" y2="94.19" class="mn"/>
<line x1="609.8" y1="101.58" x2="806.7" y2="101.58" class="mn"/>
<line x1="609.8" y1="108.98" x2="806.7" y2="108.98" class="mn"/>
<line x1="609.8" y1="123.78" x2="806.7" y2="123.78" class="mn"/>
<line x1="609.8" y1="131.18" x2="806.7" y2="131.18" class="mn"/>
<line x1="609.8" y1="138.57" x2="806.7" y2="138.57" class="mn"/>
<line x1="609.8" y1="145.97" x2="806.7" y2="145.97" class="mn"/>
<line x1="609.8" y1="160.77" x2="806.7" y2="160.77" class="mn"/>
<line x1="609.8" y1="168.17" x2="806.7" y2="168.17" class="mn"/>
<line x1="609.8" y1="175.56" x2="806.7" y2="175.56" class="mn"/>
<line x1="609.8" y1="182.96" x2="806.7" y2="182.96" class="mn"/>
<line x1="609.8" y1="197.76" x2="806.7" y2="197.76" class="mn"/>
<line x1="609.8" y1="205.16" x2="806.7" y2="205.16" class="mn"/>
<line x1="609.8" y1="212.55" x2="806.7" y2="212.55" class="mn"/>
<line x1="609.8" y1="219.95" x2="806.7" y2="219.95" class="mn"/>
<line x1="609.8" y1="234.75" x2="806.7" y2="234.75" class="mn"/>
<line x1="609.8" y1="242.15" x2="806.7" y2="242.15" class="mn"/>
<line x1="609.8" y1="249.54" x2="806.7" y2="249.54" class="mn"/>
<line x1="609.8" y1="256.94" x2="806.7" y2="256.94" class="mn"/>
<line x1="609.8" y1="271.74" x2="806.7" y2="271.74" class="mn"/>
<line x1="609.8" y1="279.14" x2="806.7" y2="279.14" class="mn"/>
<line x1="609.8" y1="286.53" x2="806.7" y2="286.53" class="mn"/>
<line x1="609.8" y1="293.93" x2="806.7" y2="293.93" class="mn"/>
<line x1="609.8" y1="308.73" x2="806.7" y2="308.73" class="mn"/>
<line x1="609.8" y1="316.13" x2="806.7" y2="316.13" class="mn"/>
<line x1="609.8" y1="323.52" x2="806.7" y2="323.52" class="mn"/>
<line x1="609.8" y1="330.92" x2="806.7" y2="330.92" class="mn"/>
<line x1="609.8" y1="345.72" x2="806.7" y2="345.72" class="mn"/>
<line x1="609.8" y1="353.12" x2="806.7" y2="353.12" class="mn"/>
<line x1="609.8" y1="360.51" x2="806.7" y2="360.51" class="mn"/>
<line x1="609.8" y1="367.91" x2="806.7" y2="367.91" class="mn"/>
<line x1="609.8" y1="382.71" x2="806.7" y2="382.71" class="mn"/>
<line x1="609.8" y1="390.11" x2="806.7" y2="390.11" class="mn"/>
<line x1="609.8" y1="397.5" x2="806.7" y2="397.5" class="mn"/>
<line x1="609.8" y1="404.9" x2="806.7" y2="404.9" class="mn"/>
<line x1="608.8" y1="79.39" x2="807.7" y2="79.39" class="mj"/>
<line x1="608.8" y1="116.38" x2="807.7" y2="116.38" class="mj"/>
<line x1="608.8" y1="153.37" x2="807.7" y2="153.37" class="mj"/>
<line x1="608.8" y1="190.36" x2="807.7" y2="190.36" class="mj"/>
<line x1="608.8" y1="227.35" x2="807.7" y2="227.35" class="mj"/>
<line x1="608.8" y1="264.34" x2="807.7" y2="264.34" class="mj"/>
<line x1="608.8" y1="301.33" x2="807.7" y2="301.33" class="mj"/>
<line x1="608.8" y1="338.32" x2="807.7" y2="338.32" class="mj"/>
<line x1="608.8" y1="375.31" x2="807.7" y2="375.31" class="mj"/>
<line x1="675.1" y1="42.4" x2="675.1" y2="412.3" class="mv"/>
<line x1="741.4" y1="42.4" x2="741.4" y2="412.3" class="mv"/>
<path d="M727.7,42.3 C727.78,42.62 728.37,43.48 728.2,44.2 C728.03,44.92 726.62,45.88 726.7,46.6 C726.78,47.32 727.82,47.87 728.7,48.5 C729.58,49.13 731.22,49.8 732,50.4 C732.78,51 733.63,51.53 733.4,52.1 C733.17,52.67 731,53.2 730.6,53.8 C730.2,54.4 731.32,54.98 731,55.7 C730.68,56.42 729.33,57.23 728.7,58.1 C728.07,58.97 727.37,60.03 727.2,60.9 C727.03,61.77 726.82,62.58 727.7,63.3 C728.58,64.02 731.07,64.63 732.5,65.2 C733.93,65.77 735.83,66.17 736.3,66.7 C736.77,67.23 736.25,67.85 735.3,68.4 C734.35,68.95 731.38,69.42 730.6,70 C729.82,70.58 730.77,71.35 730.6,71.9 C730.43,72.45 729.83,72.82 729.6,73.3 C729.37,73.78 729.35,74.28 729.2,74.8 C729.05,75.32 729.12,75.73 728.7,76.4 C728.28,77.07 727.1,78.08 726.7,78.8 C726.3,79.52 726.13,80.07 726.3,80.7 C726.47,81.33 727.07,81.93 727.7,82.6 C728.33,83.27 730.1,84.22 730.1,84.7 C730.1,85.18 729.13,85.22 727.7,85.5 C726.27,85.78 722.7,86.02 721.5,86.4 C720.3,86.78 720.02,87.32 720.5,87.8 C720.98,88.28 724,88.9 724.4,89.3 C724.8,89.7 724.9,89.85 722.9,90.2 C720.9,90.55 714.87,91.05 712.4,91.4 C709.93,91.75 708.42,91.93 708.1,92.3 C707.78,92.67 709.3,93.07 710.5,93.6 C711.7,94.13 714.18,94.87 715.3,95.5 C716.42,96.13 717.2,96.85 717.2,97.4 C717.2,97.95 714.9,98.25 715.3,98.8 C715.7,99.35 719.92,100.13 719.6,100.7 C719.28,101.27 713.8,101.72 713.4,102.2 C713,102.68 716.8,103.13 717.2,103.6 C717.6,104.07 716.2,104.43 715.8,105 C715.4,105.57 714.57,106.43 714.8,107 C715.03,107.57 717.2,107.87 717.2,108.4 C717.2,108.93 715.52,109.62 714.8,110.2 C714.08,110.78 712.82,111.22 712.9,111.9 C712.98,112.58 714.98,113.58 715.3,114.3 C715.62,115.02 715.43,115.48 714.8,116.2 C714.17,116.92 711.82,117.97 711.5,118.6 C711.18,119.23 712.98,119.45 712.9,120 C712.82,120.55 710.83,121.27 711,121.9 C711.17,122.53 712.78,123.23 713.9,123.8 C715.02,124.37 717.62,124.73 717.7,125.3 C717.78,125.87 714.4,126.57 714.4,127.2 C714.4,127.83 716.67,128.55 717.7,129.1 C718.73,129.65 720.28,129.87 720.6,130.5 C720.92,131.13 720.57,132.15 719.6,132.9 C718.63,133.65 716.07,134.52 714.8,135 C713.53,135.48 711.83,135.43 712,135.8 C712.17,136.17 714.68,136.65 715.8,137.2 C716.92,137.75 718.62,138.47 718.7,139.1 C718.78,139.73 716.87,140.37 716.3,141 C715.73,141.63 714.9,142.33 715.3,142.9 C715.7,143.47 717.58,143.92 718.7,144.4 C719.82,144.88 721.28,145.22 722,145.8 C722.72,146.38 723.55,147.15 723,147.9 C722.45,148.65 719.98,149.58 718.7,150.3 C717.42,151.02 716.42,151.57 715.3,152.2 C714.18,152.83 712.87,153.53 712,154.1 C711.13,154.67 710.42,154.97 710.1,155.6 C709.78,156.23 709.87,157.4 710.1,157.9 C710.33,158.4 712.47,158.28 711.5,158.6 C710.53,158.92 706.68,159.43 704.3,159.8 C701.92,160.17 698.55,160.23 697.2,160.8 C695.85,161.37 695.65,162.48 696.2,163.2 C696.75,163.92 698.67,164.55 700.5,165.1 C702.33,165.65 705.6,165.95 707.2,166.5 C708.8,167.05 708.83,167.87 710.1,168.4 C711.37,168.93 713.05,169.22 714.8,169.7 C716.55,170.18 719.32,170.63 720.6,171.3 C721.88,171.97 722.82,173.07 722.5,173.7 C722.18,174.33 719.73,174.55 718.7,175.1 C717.67,175.65 716.47,176.2 716.3,177 C716.13,177.8 716.83,179.02 717.7,179.9 C718.57,180.78 721.5,181.68 721.5,182.3 C721.5,182.92 718.88,183.13 717.7,183.6 C716.52,184.07 714.88,184.57 714.4,185.1 C713.92,185.63 714.8,186.2 714.8,186.8 C714.8,187.4 714.4,187.98 714.4,188.7 C714.4,189.42 714.57,190.38 714.8,191.1 C715.03,191.82 716.75,192.45 715.8,193 C714.85,193.55 709.27,194 709.1,194.4 C708.93,194.8 712.57,194.92 714.8,195.4 C717.03,195.88 721.85,196.75 722.5,197.3 C723.15,197.85 720.13,198.25 718.7,198.7 C717.27,199.15 713.9,199.52 713.9,200 C713.9,200.48 717.58,201.02 718.7,201.6 C719.82,202.18 720.28,202.78 720.6,203.5 C720.92,204.22 720.77,205.27 720.6,205.9 C720.43,206.53 719.28,206.75 719.6,207.3 C719.92,207.85 721.78,208.63 722.5,209.2 C723.22,209.77 723.98,210.13 723.9,210.7 C723.82,211.27 722.15,211.97 722,212.6 C721.85,213.23 723.55,213.87 723,214.5 C722.45,215.13 720.38,215.85 718.7,216.4 C717.02,216.95 714.27,217.37 712.9,217.8 C711.53,218.23 711.05,218.48 710.5,219 C709.95,219.52 709.03,220.27 709.6,220.9 C710.17,221.53 712.78,222.25 713.9,222.8 C715.02,223.35 716.3,223.73 716.3,224.2 C716.3,224.67 715.02,225.17 713.9,225.6 C712.78,226.03 709.6,226.47 709.6,226.8 C709.6,227.13 712.63,227.32 713.9,227.6 C715.17,227.88 716.48,228.03 717.2,228.5 C717.92,228.97 717.32,229.6 718.2,230.4 C719.08,231.2 722.1,232.42 722.5,233.3 C722.9,234.18 721.63,234.88 720.6,235.7 C719.57,236.52 716.3,237.57 716.3,238.2 C716.3,238.83 719.65,238.97 720.6,239.5 C721.55,240.03 721.6,240.68 722,241.4 C722.4,242.12 722.92,243 723,243.8 C723.08,244.6 722.5,245.4 722.5,246.2 C722.5,247 723.63,247.8 723,248.6 C722.37,249.4 720.53,250.28 718.7,251 C716.87,251.72 713.77,252.33 712,252.9 C710.23,253.47 708.1,253.9 708.1,254.4 C708.1,254.9 709.77,255.33 712,255.9 C714.23,256.47 720.38,257.23 721.5,257.8 C722.62,258.37 720.37,258.82 718.7,259.3 C717.03,259.78 712.3,260.07 711.5,260.7 C710.7,261.33 712.7,262.38 713.9,263.1 C715.1,263.82 717.58,264.37 718.7,265 C719.82,265.63 720.13,266.1 720.6,266.9 C721.07,267.7 720.4,269 721.5,269.8 C722.6,270.6 726.72,271.15 727.2,271.7 C727.68,272.25 724.32,272.55 724.4,273.1 C724.48,273.65 728.18,274.28 727.7,275 C727.22,275.72 722.62,276.77 721.5,277.4 C720.38,278.03 720.52,278.32 721,278.8 C721.48,279.28 724.32,279.65 724.4,280.3 C724.48,280.95 722.13,281.83 721.5,282.7 C720.87,283.57 721.15,284.63 720.6,285.5 C720.05,286.37 718.68,287.1 718.2,287.9 C717.72,288.7 717.63,289.65 717.7,290.3 C717.77,290.95 719.17,291.13 718.6,291.8 C718.03,292.47 713.58,293.65 714.3,294.3 C715.02,294.95 720.18,295.22 722.9,295.7 C725.62,296.18 730.03,296.63 730.6,297.2 C731.17,297.77 726.47,298.38 726.3,299.1 C726.13,299.82 728.73,300.72 729.6,301.5 C730.47,302.28 731.65,302.93 731.5,303.8 C731.35,304.67 729.97,305.82 728.7,306.7 C727.43,307.58 725.1,308.3 723.9,309.1 C722.7,309.9 721.35,310.78 721.5,311.5 C721.65,312.22 725.37,312.77 724.8,313.4 C724.23,314.03 719.45,314.67 718.1,315.3 C716.75,315.93 715.42,316.63 716.7,317.2 C717.98,317.77 723.25,318.13 725.8,318.7 C728.35,319.27 731.37,319.97 732,320.6 C732.63,321.23 731.43,321.87 729.6,322.5 C727.77,323.13 722.98,323.85 721,324.4 C719.02,324.95 717.38,325.33 717.7,325.8 C718.02,326.27 721.4,326.87 722.9,327.2 C724.4,327.53 727.02,327.57 726.7,327.8 C726.38,328.03 721.55,328.18 721,328.6 C720.45,329.02 722.12,329.7 723.4,330.3 C724.68,330.9 728.78,331.57 728.7,332.2 C728.62,332.83 724.67,333.47 722.9,334.1 C721.13,334.73 718.73,335.28 718.1,336 C717.47,336.72 719.33,337.68 719.1,338.4 C718.87,339.12 716.87,339.58 716.7,340.3 C716.53,341.02 716.75,341.98 718.1,342.7 C719.45,343.42 723.03,343.97 724.8,344.6 C726.57,345.23 728.85,345.78 728.7,346.5 C728.55,347.22 726.05,348.18 723.9,348.9 C721.75,349.62 716.92,350.32 715.8,350.8 C714.68,351.28 715.38,351.48 717.2,351.8 C719.02,352.12 724.07,352.22 726.7,352.7 C729.33,353.18 732.52,354.05 733,354.7 C733.48,355.35 730.48,355.97 729.6,356.6 C728.72,357.23 727.47,357.83 727.7,358.5 C727.93,359.17 731,359.88 731,360.6 C731,361.32 729.37,362.03 727.7,362.8 C726.03,363.57 720.83,364.57 721,365.2 C721.17,365.83 726.55,366.2 728.7,366.6 C730.85,367 733.43,367.25 733.9,367.6 C734.37,367.95 732.85,368.32 731.5,368.7 C730.15,369.08 726.43,369.45 725.8,369.9 C725.17,370.35 726.12,370.83 727.7,371.4 C729.28,371.97 733.23,372.75 735.3,373.3 C737.37,373.85 739.22,374.23 740.1,374.7 C740.98,375.17 740.75,375.53 740.6,376.1 C740.45,376.67 739.28,377.38 739.2,378.1 C739.12,378.82 739.95,380.02 740.1,380.4" fill="none" stroke="#000000" stroke-width="2.8" stroke-linejoin="round" stroke-linecap="round"/>
<path d="M608.8,412.3 V42.4 H807.7" fill="none" stroke="#7d7d7d" stroke-width="1.8"/>
<path d="M807.7,41.5 V412.3 H607.9" fill="none" stroke="#383838" stroke-width="1.6"/>
<text x="629.6" y="11.8" class="t" style="word-spacing:-0.2px">Bulk Density, g<tspan dx="1.8">/</tspan><tspan dx="1.6">cm³</tspan></text>
<text x="608.8" y="31.7" class="xl">1</text>
<text x="675.1" y="31.7" class="xl">2</text>
<text x="741.4" y="31.7" class="xl">3</text>
<text x="807.7" y="31.7" class="xl">4</text>
<text x="598.8" y="45.3" class="yl">0</text>
<text x="598.8" y="83.09" class="yl">10</text>
<text x="598.8" y="120.08" class="yl">20</text>
<text x="598.8" y="157.07" class="yl">30</text>
<text x="598.8" y="194.06" class="yl">40</text>
<text x="598.8" y="231.05" class="yl">50</text>
<text x="598.8" y="268.04" class="yl">60</text>
<text x="598.8" y="305.03" class="yl">70</text>
<text x="598.8" y="342.02" class="yl">80</text>
<text x="598.8" y="379.01" class="yl">90</text>
<text x="598.8" y="416" class="yl">100</text>
<text transform="translate(572.5,310) rotate(-90)" class="yt" style="font-size:12.3px">True Vertical Depth, m</text>
</svg>
</body></html>
